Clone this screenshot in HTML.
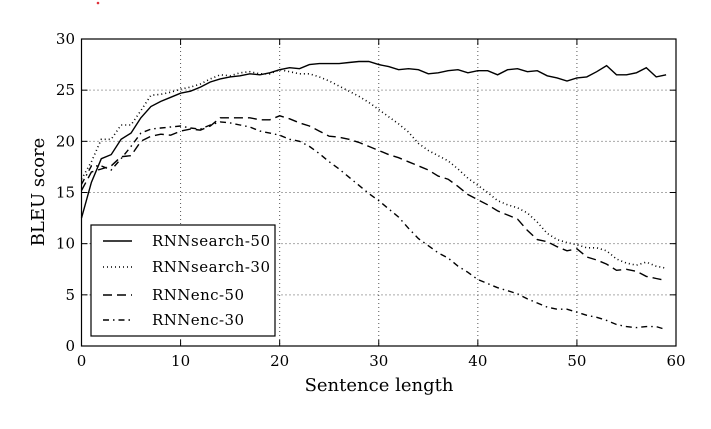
<!DOCTYPE html>
<html><head><meta charset="utf-8"><style>
html,body{margin:0;padding:0;background:#fff;}
svg{display:block;}
text{font-family:"DejaVu Serif","Liberation Serif",serif;}
</style></head><body>
<svg id="s" width="711" height="429" viewBox="0 0 711 429" xmlns="http://www.w3.org/2000/svg">
<rect width="711" height="429" fill="#fff"/>
<circle cx="98" cy="3" r="1.3" fill="#e0303a"/>
<g id="grid" stroke="#555" stroke-width="1" stroke-dasharray="1,3"></g>
<g id="series" fill="none" stroke="#000" stroke-width="1.4"></g>
<rect x="81.5" y="39" width="594.5" height="307" fill="none" stroke="#000" stroke-width="1.2"/>
<g id="ticks" stroke="#000" stroke-width="1"></g>
<g id="labels" font-size="15" fill="#000"></g>
<text x="44" y="192" font-size="18" text-anchor="middle" transform="rotate(-90 44 192)">BLEU score</text>
<text x="379" y="391" font-size="18" text-anchor="middle">Sentence length</text>
<rect x="91" y="225" width="184" height="111" fill="#fff" stroke="#000" stroke-width="1.2"/>
<g font-size="15" fill="#000">
<line x1="103" y1="241" x2="132" y2="241" stroke="#000" stroke-width="1.4"/>
<text x="152" y="246" textLength="118">RNNsearch-50</text>
<line x1="103" y1="267" x2="132" y2="267" stroke="#000" stroke-width="1.6" stroke-dasharray="1,3"/>
<text x="152" y="272" textLength="118">RNNsearch-30</text>
<line x1="103" y1="295" x2="132" y2="295" stroke="#000" stroke-width="1.4" stroke-dasharray="9,5"/>
<text x="152" y="300" textLength="92">RNNenc-50</text>
<line x1="103" y1="320" x2="132" y2="320" stroke="#000" stroke-width="1.4" stroke-dasharray="6,4,1.5,4"/>
<text x="152" y="325" textLength="92">RNNenc-30</text>
</g>
</svg>
<script>
var X=function(v){return 81.5+v*594.5/60},Y=function(v){return 346-v*307/30};
var NS="http://www.w3.org/2000/svg";
function el(p,t,a){var e=document.createElementNS(NS,t);for(var k in a)e.setAttribute(k,a[k]);document.getElementById(p).appendChild(e);return e;}
for(var i=10;i<60;i+=10)el("grid","line",{x1:X(i),x2:X(i),y1:39,y2:346});
for(var j=5;j<30;j+=5)el("grid","line",{x1:81.5,x2:676,y1:Y(j),y2:Y(j)});
for(var i=0;i<=60;i+=10){el("ticks","line",{x1:X(i),x2:X(i),y1:346,y2:340});el("ticks","line",{x1:X(i),x2:X(i),y1:39,y2:45});
var t=el("labels","text",{x:X(i),y:366,"text-anchor":"middle"});t.textContent=i;}
for(var j=0;j<=30;j+=5){el("ticks","line",{x1:81.5,x2:87.5,y1:Y(j),y2:Y(j)});el("ticks","line",{x1:676,x2:670,y1:Y(j),y2:Y(j)});
var t=el("labels","text",{x:75,y:Y(j)+5,"text-anchor":"end"});t.textContent=j;}
var D=[
[[12.5,16,18.3,18.7,20.2,20.8,22.3,23.4,23.9,24.3,24.7,24.9,25.3,25.8,26.1,26.3,26.4,26.6,26.5,26.7,27,27.2,27.1,27.5,27.6,27.6,27.6,27.7,27.8,27.8,27.5,27.3,27,27.1,27,26.6,26.7,26.9,27,26.7,26.9,26.9,26.5,27,27.1,26.8,26.9,26.4,26.2,25.9,26.2,26.3,26.8,27.4,26.5,26.5,26.7,27.2,26.3,26.5],"none",1.4],
[[16.3,18,20.2,20.2,21.6,21.6,23,24.5,24.6,24.8,25.1,25.3,25.6,26.1,26.5,26.4,26.7,26.8,26.6,26.6,27,26.8,26.6,26.6,26.3,25.9,25.4,24.9,24.4,23.8,23.1,22.4,21.7,20.9,19.8,19.1,18.6,18.1,17.3,16.4,15.7,15,14.2,13.8,13.5,13,12.1,11,10.4,10.1,9.9,9.6,9.6,9.3,8.5,8.1,7.9,8.2,7.8,7.6],"1,3",1.6],
[[15.2,17,17.3,17.6,18.5,18.6,20,20.5,20.7,20.6,21,21.2,21.1,21.5,22.3,22.3,22.3,22.3,22.1,22.1,22.5,22.2,21.8,21.5,21,20.5,20.4,20.2,19.9,19.5,19.1,18.7,18.4,18,17.6,17.2,16.6,16.3,15.6,14.8,14.3,13.8,13.2,12.8,12.4,11.3,10.4,10.2,9.7,9.3,9.5,8.7,8.4,8,7.4,7.5,7.3,6.8,6.6,6.4],"9,5",1.4],
[[15.8,17.6,17.6,17.2,18.3,19.5,20.8,21.2,21.3,21.4,21.5,21.3,21.2,21.6,21.9,21.8,21.6,21.4,21,20.8,20.6,20.2,20,19.5,18.8,18,17.3,16.5,15.7,14.9,14.2,13.4,12.6,11.5,10.5,9.8,9.1,8.6,7.8,7.2,6.5,6.1,5.7,5.4,5.1,4.6,4.2,3.8,3.6,3.6,3.3,3,2.8,2.5,2.1,1.9,1.8,1.9,1.9,1.6],"6,4,1.5,4",1.4]];
D.forEach(function(s){var d="";s[0].forEach(function(v,i){d+=(i?"L":"M")+X(i).toFixed(1)+","+Y(v).toFixed(1);});
el("series","path",{d:d,"stroke-dasharray":s[1],"stroke-width":s[2]});});
</script>
</body></html>
